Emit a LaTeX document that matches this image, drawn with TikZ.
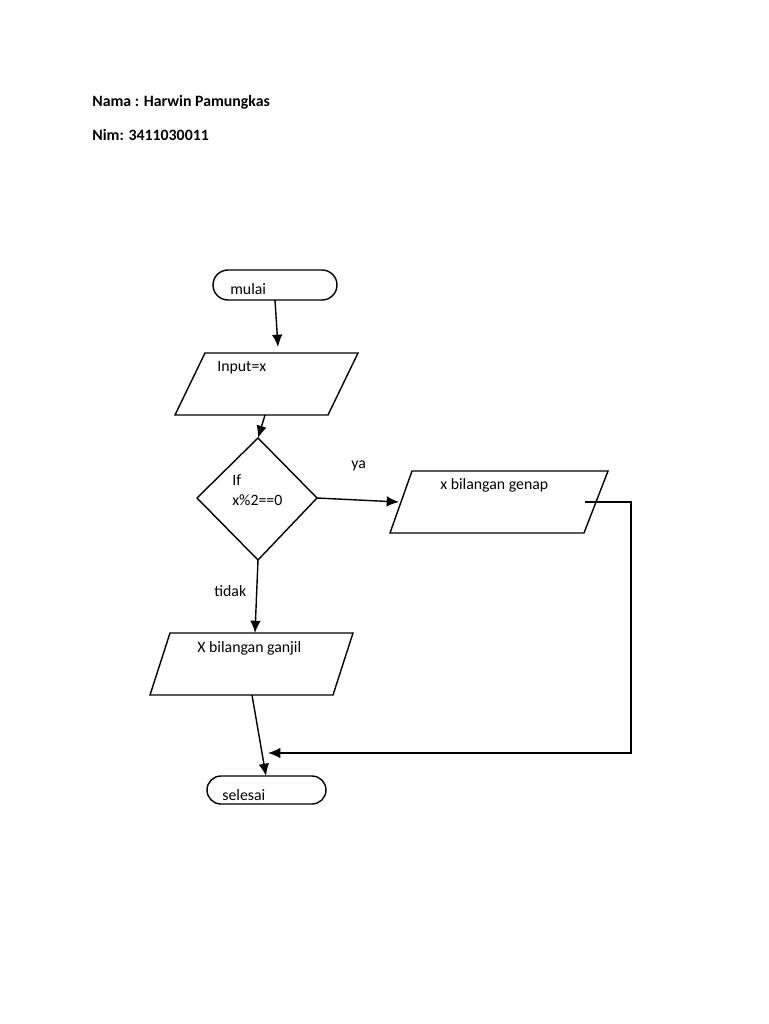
\documentclass[tikz,border=0pt]{standalone}
\usepackage{fontspec}
\setmainfont{Carlito}
\usetikzlibrary{arrows.meta}
\tikzset{
  box/.style={draw, line width=0.8pt},
  flow/.style={draw, line width=0.8pt, -{Latex[length=7pt,width=6pt]}},
  txt/.style={anchor=west, inner sep=0pt, font=\fontsize{9}{11}\selectfont}
}
\begin{document}
\begin{tikzpicture}[x=0.02cm,y=-0.02cm]
    \useasboundingbox (0,0) rectangle (768,1024);
    % heading
    \node[txt, font=\fontsize{9}{11}\selectfont\bfseries] (nama) at (92,102) {Nama : Harwin Pamungkas};
    \node[txt, font=\fontsize{9}{11}\selectfont\bfseries] (nim) at (92,135) {Nim: 3411030011};

    % shapes
    \draw[box, rounded corners=15*0.02cm] (213,270) rectangle (337,300);
    \draw[box] (205,353) -- (358,353) -- (328,415) -- (175,415) -- cycle;
    \draw[box] (258,438) -- (317,498) -- (258,560) -- (197,498) -- cycle;
    \draw[box] (412,471) -- (608,471) -- (584,533) -- (390,533) -- cycle;
    \draw[box] (170,633) -- (353,633) -- (333,695) -- (150,695) -- cycle;
    \draw[box, rounded corners=14*0.02cm] (207,776) rectangle (326,804);

    % texts
    \node[txt] (mulai) at (230,289) {mulai};
    \node[txt] (input) at (217,368) {Input=x};
    \node[txt] (if) at (232,480) {If};
    \node[txt] (cond) at (232,500) {x\%2==0};
    \node[txt] (genap) at (440,485) {x bilangan genap};
    \node[txt] (ganjil) at (197,648) {X bilangan ganjil};
    \node[txt] (selesai) at (222,795) {selesai};
    \node[txt] (ya) at (351,466) {ya};
    \node[txt] (tidak) at (214,591) {tidak};

    % connection points
    \coordinate (mulaiS) at (275,300);
    \coordinate (inputN) at (278,347);
    \coordinate (inputS) at (265,415);
    \coordinate (ifN) at (258,438);
    \coordinate (ifE) at (317,498);
    \coordinate (ifS) at (258,560);
    \coordinate (genapW) at (399,502);
    \coordinate (genapE) at (585,502);
    \coordinate (ganjilN) at (255,633);
    \coordinate (ganjilS) at (252,695);
    \coordinate (join) at (268,753);
    \coordinate (selesaiN) at (266,776);

    % connectors
    \draw[flow] (mulaiS) -- (inputN);
    \draw[flow] (inputS) -- (ifN);
    \draw[flow] (ifE) -- (genapW);
    \draw[flow] (ifS) -- (ganjilN);
    \draw[flow] (ganjilS) -- (selesaiN);
    \draw[flow] (genapE) -- (631,502) -- (631,753) -- (join);
\end{tikzpicture}
\end{document}
